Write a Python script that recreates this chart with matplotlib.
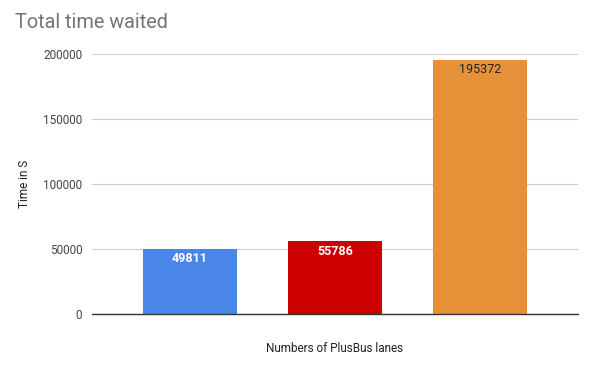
import matplotlib
matplotlib.use("Agg")
import matplotlib.pyplot as plt

categories = ["1", "2", "3"]
values = [49811, 55786, 195372]
colors = ["#4a86e8", "#cc0000", "#e69138"]
label_colors = ["#ffffff", "#ffffff", "#222222"]
yticks = [0, 50000, 100000, 150000, 200000]

plt.rcParams['font.family'] = ['Roboto', 'DejaVu Sans']

fig = plt.figure(figsize=(5.94, 3.67), dpi=100)
ax = fig.add_axes([92/594, 1-314/367, (578-92)/594, (314-54)/367])

x = list(range(len(categories)))
bars = ax.bar(x, values, width=0.648, color=colors, zorder=3)
for xi, v, lc in zip(x, values, label_colors):
    ax.text(xi, v - 2500, str(v), ha='center', va='top', color=lc,
            fontsize=9, fontweight='bold' if lc == "#ffffff" else 'normal', zorder=4)

ax.set_xlim(-0.676, 2.676)
ax.set_ylim(0, 200000)
ax.set_yticks(yticks)
ax.set_yticklabels([str(t) for t in yticks], color="#444444", fontsize=8.5)
ax.set_xticks([])
ax.tick_params(axis='y', length=0, pad=7)
ax.grid(axis='y', color="#cccccc", linewidth=0.8, zorder=0)
for s in ['top', 'right', 'left']:
    ax.spines[s].set_visible(False)
ax.spines['bottom'].set_color("#333333")
ax.spines['bottom'].set_linewidth(1.0)
ax.spines['bottom'].set_zorder(5)

ax.set_ylabel("Time in S", color="#222222", fontsize=8.5, labelpad=9)
ax.set_xlabel("Numbers of PlusBus lanes", color="#222222", fontsize=8.5, labelpad=20)
fig.text(15/594, 1-22/367, "Total time waited", color="#757575", fontsize=14.3,
         ha='left', va='center')

fig.savefig("out.png", dpi=100, facecolor="white")
